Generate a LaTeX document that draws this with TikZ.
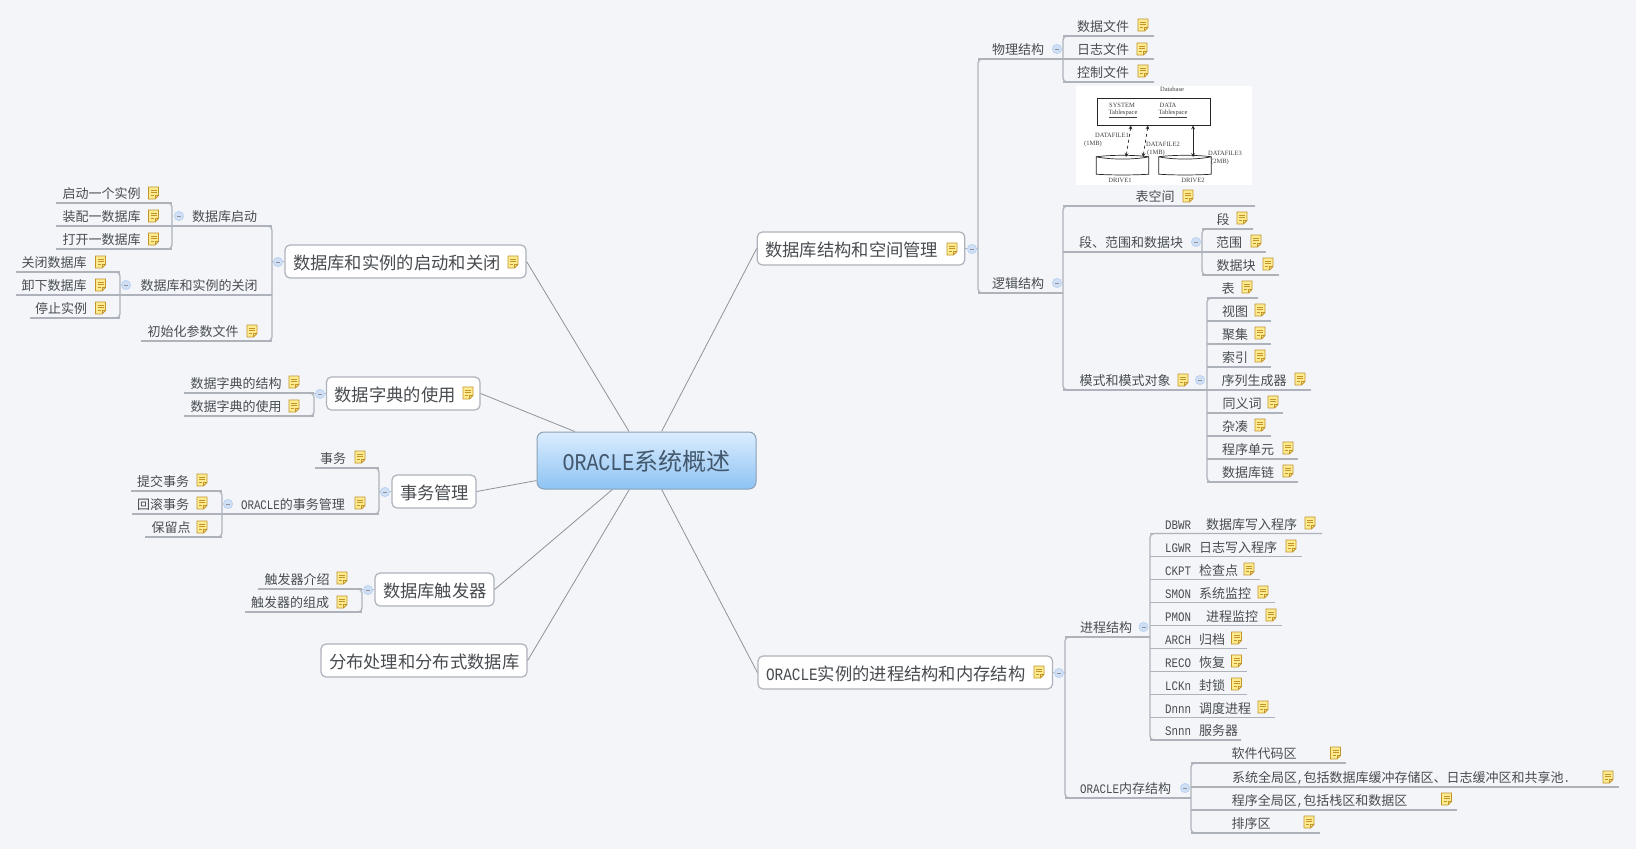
\documentclass[tikz,border=0pt]{standalone}
\usepackage{fontspec}
\usepackage{xcolor}
\usepackage{tikz}
\usetikzlibrary{
    arrows,
    calc,
    positioning
}
\setmainfont{Noto Sans CJK SC}
\newfontfamily\latinface[FakeStretch=0.833]{Liberation Mono}
\newfontfamily\figface{Liberation Serif}
\newcommand{\lat}[1]{{\latinface #1}}
\definecolor{mapbg}{HTML}{F3F5F9}
\definecolor{inkgray}{HTML}{484C50}
\definecolor{rootink}{HTML}{43586C}
\definecolor{roottop}{HTML}{DCEDFF}
\definecolor{rootbottom}{HTML}{8DC3F3}
\definecolor{rootedge}{HTML}{8BA0B4}
\definecolor{linegray}{HTML}{AEB2BA}
\definecolor{spokegray}{HTML}{8F9399}
\definecolor{notefill}{HTML}{FFEB8F}
\definecolor{noteedge}{HTML}{C2942A}
\definecolor{foldfill}{HTML}{CFE0F6}
\definecolor{foldedge}{HTML}{BCD2EE}
\tikzset{
    leafnode/.style={font=\fontsize{13}{13}\selectfont, text=inkgray, inner sep=0pt, text height=12.4pt, text depth=0.6pt},
    topicbox/.style={draw=linegray, fill=white, line width=1.2pt, rounded corners=5pt, inner xsep=8pt, inner ysep=0pt, minimum height=33pt, align=left, text height=17pt, text depth=0.4pt, font=\fontsize{17.3}{18}\selectfont, text=inkgray},
    rootbox/.style={draw=rootedge, line width=1pt, rounded corners=7pt, top color=roottop, bottom color=rootbottom, minimum width=219pt, minimum height=57pt, inner sep=0pt, text height=21pt, text depth=2pt, font=\fontsize{24}{24}\selectfont, text=rootink},
    branchline/.style={draw=linegray, line width=1.3pt},
    spoke/.style={draw=spokegray, line width=0.8pt},
    notepaper/.style={draw=noteedge, fill=notefill, line width=0.9pt},
    noteline/.style={draw=noteedge, line width=0.7pt},
    figlabel/.style={font=\figface\fontsize{6.5}{7}\selectfont, text=black!75, inner sep=0pt},
    figline/.style={draw=black!85, line width=0.7pt}
}
\newcommand{\noteicon}[2]{
    \begin{scope}[shift={(#1,#2)}]
        \draw[notepaper] (-5, -6) -- (5, -6) -- (5, 2.5) -- (1.5, 6) -- (-5, 6) -- cycle;
        \draw[noteline] (5, 2.5) -- (1.5, 2.5) -- (1.5, 6);
        \draw[noteline] (-3, -3) -- (3, -3) (-3, -0.5) -- (3, -0.5) (-3, 2) -- (0, 2);
    \end{scope}
}
\newcommand{\foldmark}[2]{
    \fill[foldfill] (#1, #2) circle (4.6);
    \draw[foldedge, line width=0.8pt] (#1, #2) circle (4.6);
    \draw[spokegray, line width=0.7pt] (#1 - 2, #2) -- (#1 + 2, #2);
}
\newcommand{\leaf}[6]{
    \node[leafnode] (#1) at (#2, #3) {#4};
    \coordinate (#1-a) at (#5, #3 + 10);
    \coordinate (#1-b) at (#6, #3 + 10);
    \draw[branchline] (#1-a) -- (#1-b);
}
\newcommand{\bracket}[2]{
    \draw[branchline, rounded corners=4pt] (#1-b) -- (#1-a) -- (#2-a) -- (#2-b);
}
\newcommand{\drivecyl}[3]{
    \node[minimum width=52pt, minimum height=17pt, inner sep=0pt] (#1) at (#2, #3) {};
    \draw[figline] (#1.north west) .. controls ($(#1.north west) + (14, -2)$) and ($(#1.north east) + (-14, -2)$) .. (#1.north east) -- (#1.south east) .. controls ($(#1.south east) + (-14, 1)$) and ($(#1.south west) + (14, 1)$) .. (#1.south west) -- cycle;
    \draw[figline] (#1.north west) .. controls ($(#1.north west) + (14, 3)$) and ($(#1.north east) + (-14, 3)$) .. (#1.north east);
}
\begin{document}
\begin{tikzpicture}[x=1pt, y=-1pt]
    \useasboundingbox (0, 0) rectangle (1636, 849);
    \fill[mapbg] (0, 0) rectangle (1636, 849);

    \node[rootbox] (root) at (646.5, 460.5) {\lat{ORACLE}系统概述};
    \node[topicbox, text width=191.5pt] (dbstruct) at (861, 248.5) {数据库结构和空间管理};
    \node[topicbox, text width=278.5pt] (procmem) at (905.25, 672.5) {\lat{ORACLE}实例的进程结构和内存结构};
    \node[topicbox, text width=225pt] (dbstart) at (405.5, 261.5) {数据库和实例的启动和关闭};
    \node[topicbox, text width=137.5pt] (dict) at (403.25, 393.5) {数据字典的使用};
    \node[topicbox, text width=68pt] (txmgmt) at (434, 491.5) {事务管理};
    \node[topicbox, text width=103pt] (trigger) at (434.5, 589.5) {数据库触发器};
    \node[topicbox, text width=190pt] (distrib) at (424, 660.5) {分布处理和分布式数据库};

    \draw[spoke] (root) -- (dbstruct.west) (root) -- (procmem.west) (root) -- (dbstart.east) (root) -- (dict.east);
    \draw[spoke] (root) -- (txmgmt.east) (root) -- (trigger.east) (root) -- (distrib.east);

    \leaf{physical}{1018}{49}{物理结构}{978}{1063}
    \leaf{logical}{1018}{283}{逻辑结构}{978}{1063}
    \bracket{physical}{logical}
    \draw[branchline] (dbstruct.east) -- (dbstruct.east -| physical-a);

    \leaf{datafile}{1103}{26}{数据文件}{1063}{1154}
    \leaf{logfile}{1103}{49}{日志文件}{1063}{1154}
    \leaf{ctlfile}{1103}{72}{控制文件}{1063}{1154}
    \bracket{datafile}{ctlfile}

    \leaf{tablespace}{1155}{196}{表空间}{1063}{1255}
    \leaf{segments}{1131}{242}{段、范围和数据块}{1063}{1202}
    \leaf{schema}{1125}{380}{模式和模式对象}{1063}{1207}
    \bracket{tablespace}{schema}

    \leaf{seg}{1223}{219}{段}{1202}{1253}
    \leaf{extent}{1229}{242}{范围}{1202}{1266}
    \leaf{block}{1236}{265}{数据块}{1202}{1279}
    \bracket{seg}{block}

    \leaf{tbl}{1228}{288}{表}{1207}{1258}
    \leaf{view}{1235}{311}{视图}{1207}{1271}
    \leaf{cluster}{1235}{334}{聚集}{1207}{1271}
    \leaf{index}{1235}{357}{索引}{1207}{1271}
    \leaf{sequence}{1254}{380}{序列生成器}{1207}{1311}
    \leaf{synonym}{1242}{403}{同义词}{1207}{1283}
    \leaf{hash}{1235}{426}{杂凑}{1207}{1271}
    \leaf{program}{1248}{449}{程序单元}{1207}{1298}
    \leaf{dblink}{1248}{472}{数据库链}{1207}{1298}
    \bracket{tbl}{dblink}

    \leaf{procs}{1106}{627}{进程结构}{1065}{1150}
    \leaf{memory}{1125.5}{788}{\lat{ORACLE}内存结构}{1065}{1191}
    \bracket{procs}{memory}
    \draw[branchline] (procmem.east) -- (procmem.east -| procs-a);

    \leaf{dbwr}{1231}{523.5}{\lat{DBWR}\hspace{15pt}数据库写入程序}{1150}{1322}
    \leaf{lgwr}{1221}{546.5}{\lat{LGWR}\hspace{8pt}日志写入程序}{1150}{1302}
    \leaf{ckpt}{1201.5}{569.5}{\lat{CKPT}\hspace{8pt}检查点}{1150}{1260}
    \leaf{smon}{1208}{592.5}{\lat{SMON}\hspace{8pt}系统监控}{1150}{1275}
    \leaf{pmon}{1211.5}{615.5}{\lat{PMON}\hspace{15pt}进程监控}{1150}{1282}
    \leaf{arch}{1195}{638.5}{\lat{ARCH}\hspace{8pt}归档}{1150}{1247}
    \leaf{reco}{1195}{661.5}{\lat{RECO}\hspace{8pt}恢复}{1150}{1247}
    \leaf{lckn}{1195}{684.5}{\lat{LCKn}\hspace{8pt}封锁}{1150}{1247}
    \leaf{dnnn}{1208}{707.5}{\lat{Dnnn}\hspace{8pt}调度进程}{1150}{1275}
    \leaf{snnn}{1201.5}{730}{\lat{Snnn}\hspace{8pt}服务器}{1150}{1241}
    \bracket{dbwr}{snnn}

    \leaf{codearea}{1264}{753}{软件代码区}{1191}{1346}
    \leaf{sga}{1401}{777}{系统全局区\lat{,}包括数据库缓冲存储区、日志缓冲区和共享池\lat{.}}{1191}{1619}
    \leaf{pga}{1319.5}{800}{程序全局区\lat{,}包括栈区和数据区}{1191}{1457}
    \leaf{sortarea}{1251}{823}{排序区}{1191}{1320}
    \bracket{codearea}{sortarea}

    \leaf{startup}{224.5}{216}{数据库启动}{272}{172}
    \leaf{shutdown}{199}{285}{数据库和实例的关闭}{272}{120}
    \leaf{initpar}{193}{331}{初始化参数文件}{272}{141}
    \bracket{startup}{initpar}
    \draw[branchline] (dbstart.west) -- (dbstart.west -| startup-a);

    \leaf{instance}{101.5}{193}{启动一个实例}{172}{56}
    \leaf{mount}{101.5}{216}{装配一数据库}{172}{56}
    \leaf{opendb}{101.5}{239}{打开一数据库}{172}{56}
    \bracket{instance}{opendb}

    \leaf{closedb}{54}{262}{关闭数据库}{120}{16}
    \leaf{unmount}{54}{285}{卸下数据库}{120}{16}
    \leaf{stopinst}{61}{308}{停止实例}{120}{30}
    \bracket{closedb}{stopinst}

    \leaf{dictstruct}{236}{383}{数据字典的结构}{314}{184}
    \leaf{dictuse}{236}{406}{数据字典的使用}{314}{184}
    \bracket{dictstruct}{dictuse}
    \draw[branchline] (dict.west) -- (dict.west -| dictuse-a);

    \leaf{txitem}{333}{458}{事务}{379}{315}
    \leaf{txoracle}{293}{504}{\lat{ORACLE}的事务管理}{379}{222}
    \bracket{txitem}{txoracle}
    \draw[branchline] (txmgmt.west) -- (txmgmt.west -| txitem-a);

    \leaf{commit}{163}{481}{提交事务}{222}{131}
    \leaf{rollback}{163}{504}{回滚事务}{222}{132}
    \leaf{savepoint}{171}{527}{保留点}{222}{145}
    \bracket{commit}{savepoint}

    \leaf{trigintro}{297}{579}{触发器介绍}{362}{258}
    \leaf{trigparts}{290}{602}{触发器的组成}{362}{245}
    \bracket{trigintro}{trigparts}
    \draw[branchline] (trigger.west) -- (trigger.west -| trigintro-a);

    \foldmark{972}{249}
    \foldmark{1057}{49}
    \foldmark{1057}{283}
    \foldmark{1196}{242}
    \foldmark{1200}{380}
    \foldmark{1059}{673}
    \foldmark{1143.5}{627}
    \foldmark{1185}{788}
    \foldmark{278}{262}
    \foldmark{179}{216}
    \foldmark{126}{285}
    \foldmark{320}{394}
    \foldmark{385}{492}
    \foldmark{228}{504}
    \foldmark{368}{590}

    \noteicon{952}{249}
    \noteicon{1143}{25}
    \noteicon{1142}{49}
    \noteicon{1143}{71}
    \noteicon{1188}{196}
    \noteicon{1242}{218}
    \noteicon{1256}{241}
    \noteicon{1268}{264}
    \noteicon{1183}{380}
    \noteicon{1247}{287}
    \noteicon{1260}{310}
    \noteicon{1260}{333}
    \noteicon{1260}{356}
    \noteicon{1300}{379}
    \noteicon{1273}{402}
    \noteicon{1260}{425}
    \noteicon{1288}{448}
    \noteicon{1288}{471}
    \noteicon{1039}{672}
    \noteicon{1310}{523}
    \noteicon{1291}{546}
    \noteicon{1249}{569}
    \noteicon{1263}{592}
    \noteicon{1271}{615}
    \noteicon{1236.5}{638}
    \noteicon{1236.5}{661}
    \noteicon{1236.5}{684}
    \noteicon{1263}{707}
    \noteicon{1335.5}{753}
    \noteicon{1608}{777}
    \noteicon{1446.5}{799}
    \noteicon{1309}{822}
    \noteicon{513}{262}
    \noteicon{153.5}{193}
    \noteicon{153.5}{216}
    \noteicon{153.5}{239}
    \noteicon{100.5}{262}
    \noteicon{100.5}{285}
    \noteicon{100.5}{308}
    \noteicon{252}{331}
    \noteicon{468}{393}
    \noteicon{294}{382}
    \noteicon{294}{406}
    \noteicon{360}{457}
    \noteicon{360}{503}
    \noteicon{202}{480}
    \noteicon{202}{503}
    \noteicon{202}{527}
    \noteicon{342}{578}
    \noteicon{342}{602}

    \fill[white] (1076, 86) rectangle (1252, 185);
    \node[draw=black!85, line width=0.8pt, minimum width=113pt, minimum height=27pt, inner sep=0pt] (spacebox) at (1153.5, 111.5) {};
    \drivecyl{driveone}{1122.5}{165.5}
    \drivecyl{drivetwo}{1185}{165.5}
    \node[figlabel] (dbname) at (1172, 89) {Database};
    \node[figlabel] (sysname) at (1122, 105) {SYSTEM};
    \node[figlabel] (systbs) at (1123, 114) {\underline{Tablespace}};
    \node[figlabel] (dataname) at (1168, 105) {DATA};
    \node[figlabel] (datatbs) at (1173, 114) {\underline{Tablespace}};
    \node[figlabel] (fileone) at (1112, 135) {DATAFILE1};
    \node[figlabel] (sizeone) at (1093, 144) {(1MB)};
    \node[figlabel] (filetwo) at (1163, 144) {DATAFILE2};
    \node[figlabel] (sizetwo) at (1156, 153) {(1MB)};
    \node[figlabel] (filethree) at (1225, 153) {DATAFILE3};
    \node[figlabel] (sizethree) at (1220, 162) {(2MB)};
    \node[figlabel] (driveonename) at (1120, 180) {DRIVE1};
    \node[figlabel] (drivetwoname) at (1193, 180) {DRIVE2};
    \coordinate (linka) at (1131, 125.5);
    \coordinate (linkb) at (1126, 157);
    \coordinate (linkc) at (1148, 125.5);
    \coordinate (linkd) at (1143, 157);
    \coordinate (linke) at (1193, 125.5);
    \coordinate (linkf) at (1193, 157);
    \draw[figline, dashed, <->, >=stealth] (linka) -- (linkb);
    \draw[figline, dashed, <->, >=stealth] (linkc) -- (linkd);
    \draw[figline, <->, >=stealth] (linke) -- (linkf);
\end{tikzpicture}
\end{document}
